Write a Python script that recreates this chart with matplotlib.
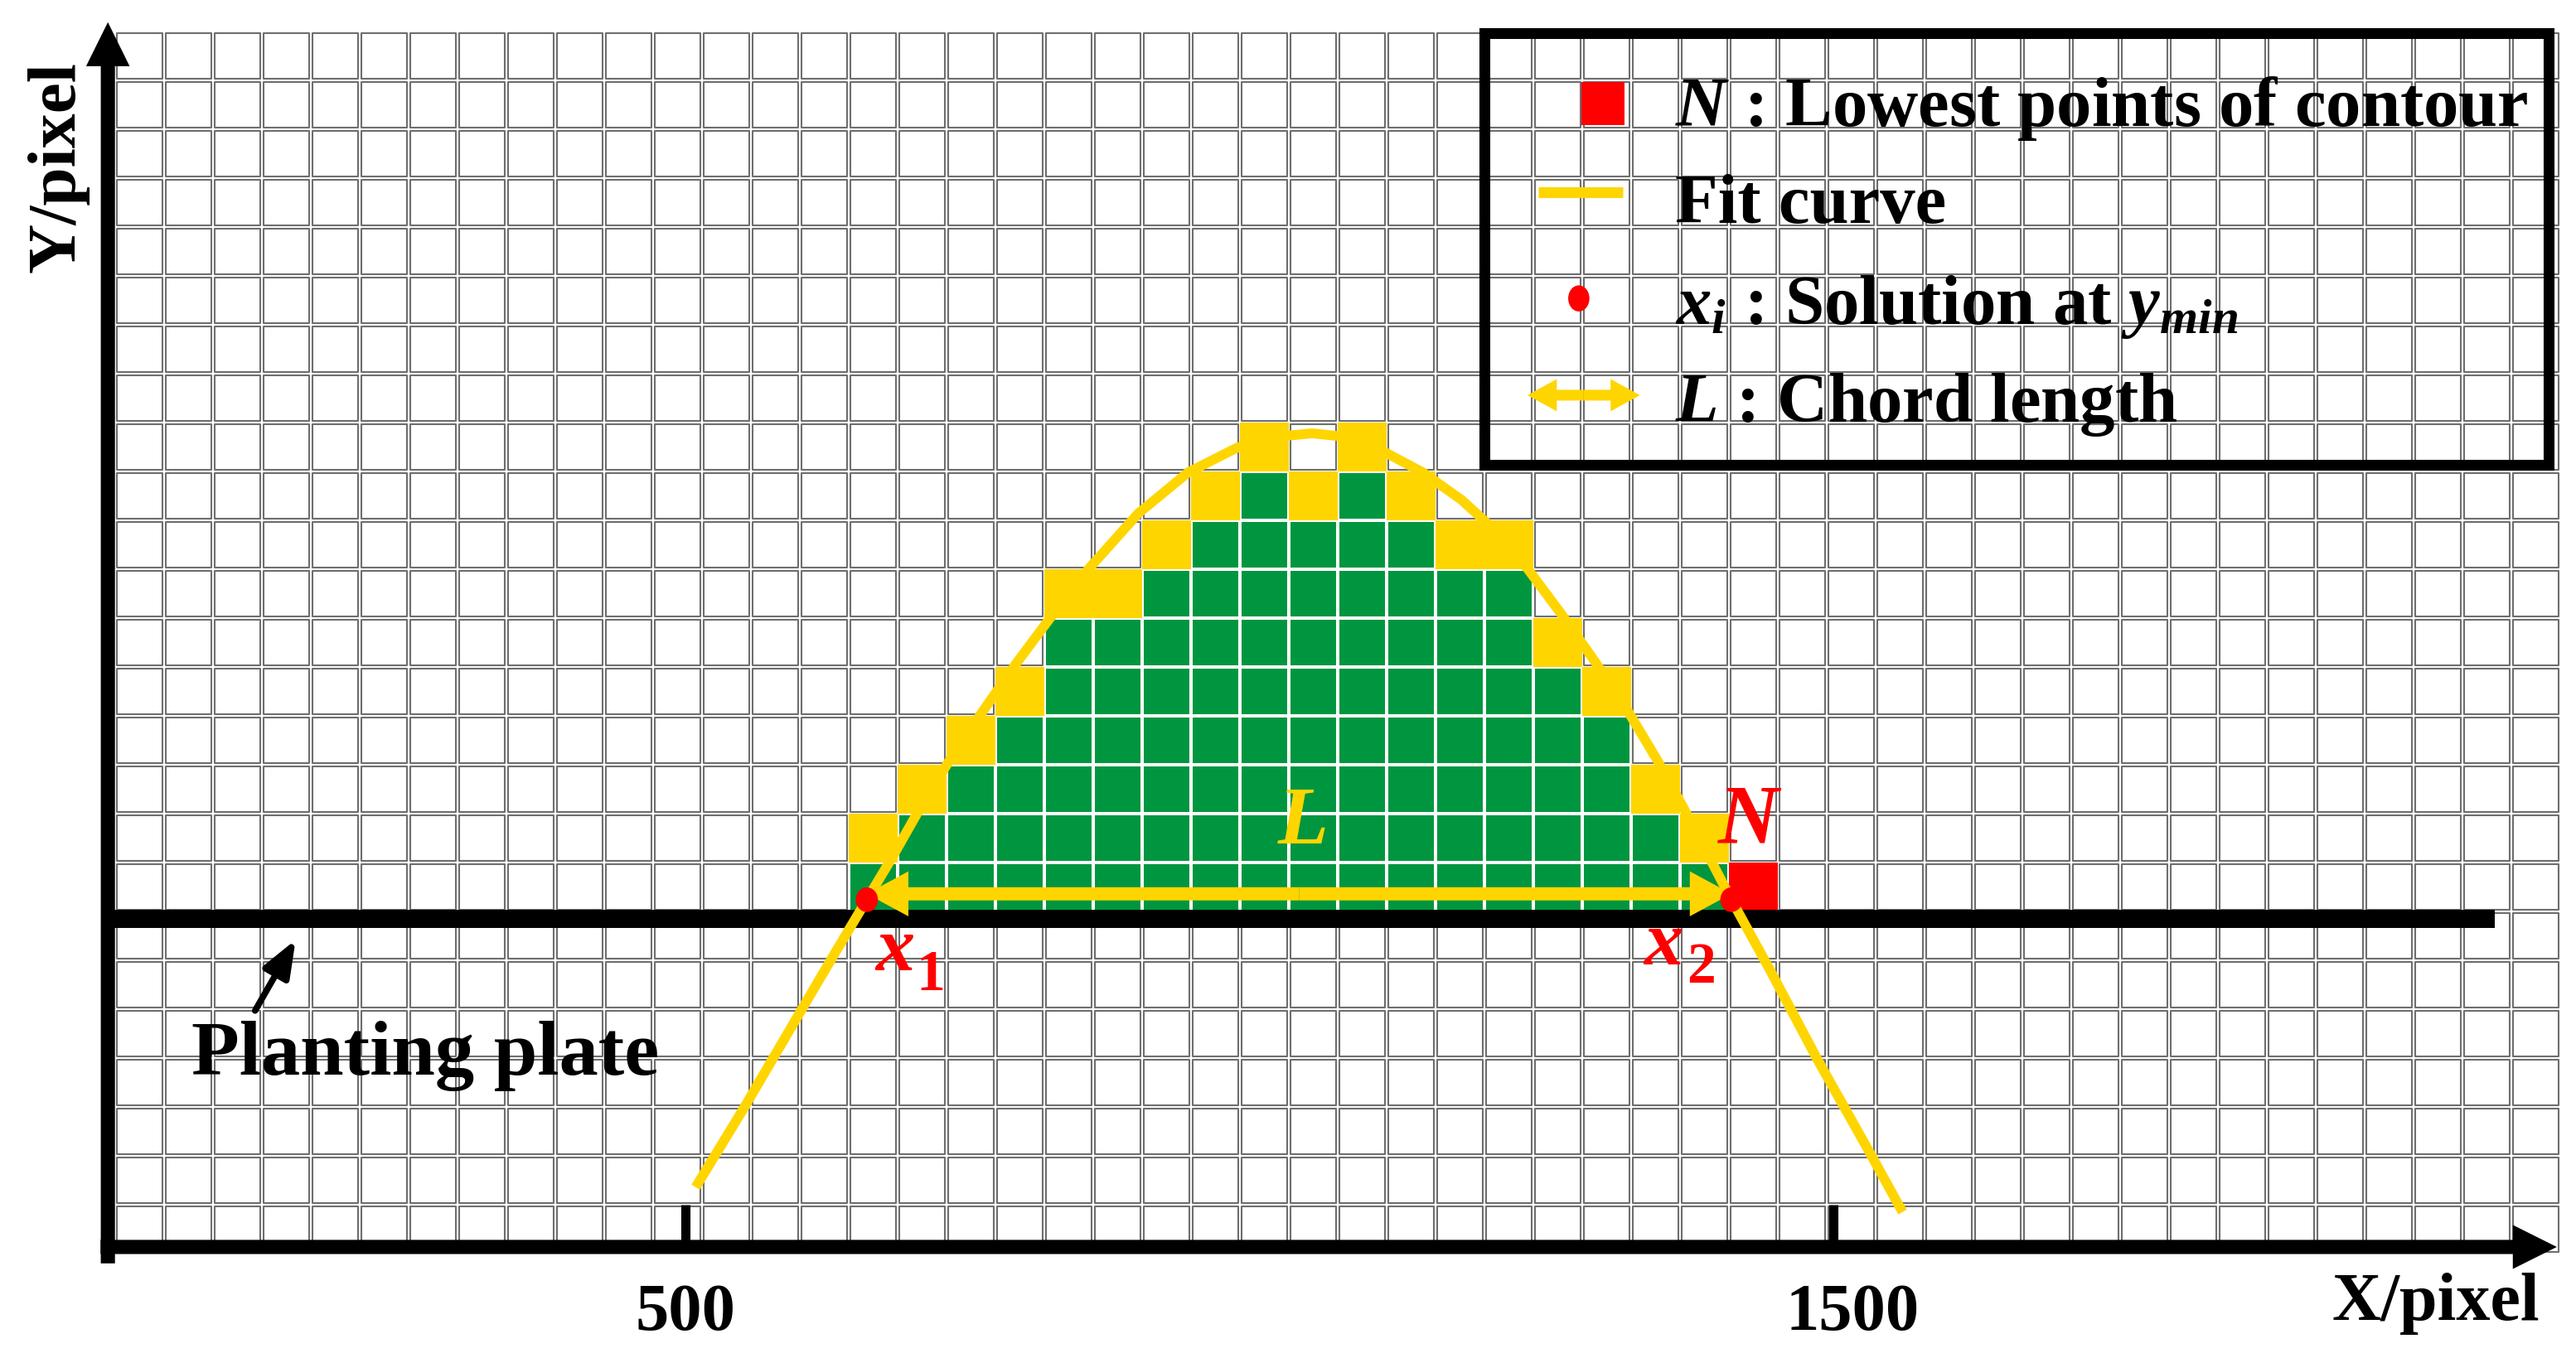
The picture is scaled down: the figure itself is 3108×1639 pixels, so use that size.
import numpy as np
import matplotlib.pyplot as plt
from matplotlib.patches import Rectangle, Ellipse
from matplotlib.collections import PatchCollection

plt.rcParams['font.family'] = ['Liberation Serif', 'DejaVu Serif']
plt.rcParams['font.weight'] = 'bold'
plt.rcParams['mathtext.fontset'] = 'custom'
plt.rcParams['mathtext.rm'] = 'Liberation Serif:bold'
plt.rcParams['mathtext.it'] = 'Liberation Serif:italic'
plt.rcParams['mathtext.bf'] = 'Liberation Serif:bold'

# grid of image cells (column index, row index counted from the bottom axis)
n_cols = 50
n_rows = 25

# contour pixels: green spans per row (start col, end col)
green_row = [7, 8, 9, 10, 11, 12, 13, 14, 15, 15]
green_start = [15, 16, 17, 18, 19, 19, 21, 22, 23, 25]
green_end = [32, 31, 30, 30, 29, 28, 28, 26, 23, 25]

# boundary pixels (yellow)
yellow_col = [15, 32, 16, 31, 17, 18, 30, 29, 19, 20, 21, 27, 28, 22, 24, 26, 23, 25]
yellow_row = [8, 8, 9, 9, 10, 11, 11, 12, 13, 13, 14, 14, 14, 15, 15, 15, 16, 16]

# lowest point of contour N
lowest_col = [33]
lowest_row = [7]

# fit curve (cell units)
fit_x = [11.87, 12.87, 13.83, 14.79, 15.37, 15.88, 16.43, 17.14, 17.76, 18.43,
         19.11, 19.90, 20.92, 21.94, 22.95, 23.86, 24.48, 25.04, 25.84, 26.74,
         27.53, 28.21, 28.89, 29.56, 30.24, 30.92, 31.56, 32.07, 33.05, 33.84,
         34.81, 35.90, 36.55]
fit_y = [1.36, 3.00, 4.64, 6.27, 7.24, 8.09, 9.06, 10.22, 11.12, 12.08,
         12.99, 14.00, 15.14, 15.98, 16.49, 16.72, 16.78, 16.72, 16.46, 15.98,
         15.42, 14.80, 14.00, 13.10, 12.14, 11.12, 10.05, 9.12, 7.24, 5.80,
         3.97, 2.03, 0.85]

# solutions x1, x2 at y_min
x_sol = [15.37, 33.05]
y_min = 7.24
chord_y = 7.36

# planting plate level and x ticks
plate_y = 6.85
plate_end = 48.66
tick_values = [500, 1500]
px_per_cell = 42.6
tick_origin = -0.08

yellow = '#FFD500'
green = '#00963F'
red = '#FF0000'
gray = '#6e6e6e'

# figure in cell units: 59 image px per cell, grid origin at (139, 1513)
W, H = 3108, 1639
cpx = 59.0
fig = plt.figure(figsize=(W / 100, H / 100), dpi=100)
ax = fig.add_axes([0, 0, 1, 1])
ax.set_xlim(-139 / cpx, (W - 139) / cpx)
ax.set_ylim((1513 - H) / cpx, 1513 / cpx)
ax.axis('off')

filled = set()
green_cells = []
for r, a, b in zip(green_row, green_start, green_end):
    for c in range(a, b + 1):
        green_cells.append((c, r))
        filled.add((c, r))
for c, r in zip(yellow_col, yellow_row):
    filled.add((c, r))
for c, r in zip(lowest_col, lowest_row):
    filled.add((c, r))

# empty grid cells
ins = 0.035
empty = [Rectangle((c + ins, r + ins), 1 - 2 * ins, 1 - 2 * ins)
         for c in range(n_cols) for r in range(n_rows) if (c, r) not in filled]
ax.add_collection(PatchCollection(empty, facecolor='white', edgecolor=gray,
                                  linewidth=1.5, zorder=1))

gi = 0.03
ax.add_collection(PatchCollection(
    [Rectangle((c + gi, r + gi), 1 - 2 * gi, 1 - 2 * gi) for c, r in green_cells],
    facecolor=green, edgecolor='none', zorder=2))
ax.add_collection(PatchCollection(
    [Rectangle((c, r), 1, 1) for c, r in zip(yellow_col, yellow_row)],
    facecolor=yellow, edgecolor='none', zorder=2))
ax.add_collection(PatchCollection(
    [Rectangle((c, r), 1, 1) for c, r in zip(lowest_col, lowest_row)],
    facecolor=red, edgecolor='none', zorder=2))

# planting plate
ax.plot([-0.15, plate_end], [plate_y, plate_y], color='k', lw=15.8,
        solid_capstyle='butt', zorder=3)

# axes arrows
ax.arrow(-0.15, -0.2, 0, 25.39, width=0.29, head_width=0.89, head_length=0.9,
         length_includes_head=True, color='k', lw=0, zorder=8)
ax.arrow(-0.3, 0.136, 50.23, 0, width=0.29, head_width=0.9, head_length=0.9,
         length_includes_head=True, color='k', lw=0, zorder=8)
tick_pos = [v / px_per_cell + tick_origin for v in tick_values]
ax.vlines(tick_pos, 0.2, 1.0, color='k', lw=8, zorder=8)
label_shift = [0.0, 0.4]
for p, v, s in zip(tick_pos, tick_values, label_shift):
    ax.text(p + s, -1.56, str(v), ha='center', va='baseline', fontsize=58, zorder=9)
ax.text(49.58, -1.36, 'X/pixel', ha='right', va='baseline', fontsize=59, zorder=9)
ax.text(-1.17, 22.22, 'Y/pixel', ha='center', va='center', rotation=90,
        fontsize=60, zorder=9)

# fit curve
ax.plot(fit_x, fit_y, color=yellow, lw=8.5, solid_capstyle='butt',
        solid_joinstyle='round', zorder=4)

# chord length arrow
mid = (x_sol[0] + x_sol[1]) / 2
for xs in x_sol:
    ax.arrow(mid, chord_y, xs - mid, 0, width=0.27, head_width=0.92, head_length=0.85,
             length_includes_head=True, color=yellow, lw=0, zorder=5)
for xs in x_sol:
    ax.add_patch(Ellipse((xs, y_min), 0.43, 0.48, color=red, zorder=6))

# labels on the chart
ax.text(24.3, 8.39, 'L', color=yellow, style='italic', fontsize=72,
        ha='center', va='baseline', zorder=9)
ax.text(33.4, 8.39, 'N', color=red, style='italic', fontsize=73,
        ha='center', va='baseline', zorder=9)
ax.text(15.95, 5.80, 'x', color=red, style='italic', fontsize=68,
        ha='center', va='baseline', zorder=9)
ax.text(16.67, 5.39, '1', color=red, fontsize=50, ha='center', va='baseline', zorder=9)
ax.text(31.65, 5.92, 'x', color=red, style='italic', fontsize=68,
        ha='center', va='baseline', zorder=9)
ax.text(32.43, 5.54, '2', color=red, fontsize=50, ha='center', va='baseline', zorder=9)

# planting plate annotation
ax.annotate('', xy=(3.69, 6.42), xytext=(2.86, 4.97),
            arrowprops=dict(arrowstyle='-|>,head_length=0.9,head_width=0.35',
                            lw=5.5, color='k', shrinkA=0, shrinkB=0,
                            mutation_scale=30), zorder=9)
ax.text(1.56, 3.66, 'Planting plate', fontsize=68, ha='left', va='baseline', zorder=9)

# legend box
ax.add_patch(Rectangle((28.0, 16.14), 21.77, 8.83, fill=False, edgecolor='k',
                       lw=9.4, joinstyle='miter', zorder=8))
ax.plot([30.42], [23.52], marker='s', ms=37, mew=0, color=red, zorder=9)
ax.plot([29.1, 30.83], [21.71, 21.71], color=yellow, lw=9.4,
        solid_capstyle='butt', zorder=9)
ax.add_patch(Ellipse((29.93, 19.54), 0.41, 0.51, color=red, zorder=9))
for d in (-1, 1):
    ax.arrow(30.03, 17.56, d * 1.15, 0, width=0.22, head_width=0.66, head_length=0.6,
             length_includes_head=True, color=yellow, lw=0, zorder=9)

leg_x = 31.9
leg_fs = 61
ax.text(leg_x, 23.07, r'$N$ : Lowest points of contour', fontsize=leg_fs,
        va='baseline', zorder=10)
ax.text(leg_x, 21.09, 'Fit curve', fontsize=leg_fs, va='baseline', zorder=10)
ax.text(leg_x, 19.02, r'$x_i$ : Solution at $y_{min}$', fontsize=leg_fs,
        va='baseline', zorder=10)
ax.text(leg_x, 17.02, r'$L$ : Chord length', fontsize=leg_fs, va='baseline', zorder=10)

fig.savefig('out.png', dpi=100)
